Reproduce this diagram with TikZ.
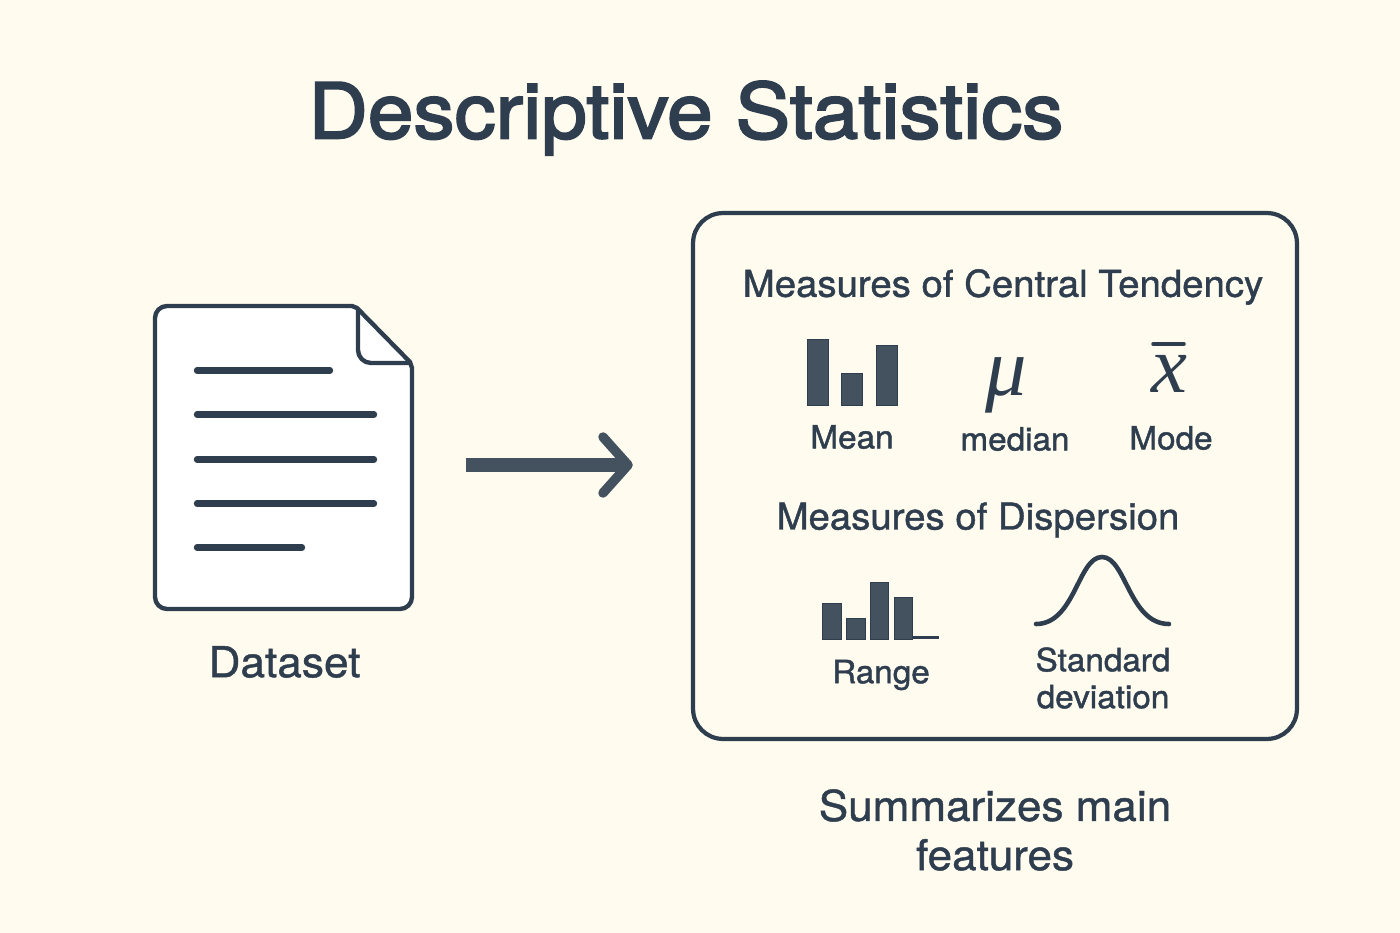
\documentclass[tikz,border=0pt]{standalone}
\usepackage{fontspec}
\setmainfont[FakeStretch=1.04]{TeX Gyre Heros}
\newfontfamily\titlefont[FakeStretch=1.07]{TeX Gyre Heros}
\newfontfamily\symbolfont{Liberation Serif}
\newcommand\inkweight[1]{\special{pdf:code #1 w 2 Tr}}
\definecolor{paper}{HTML}{FFFBEF}
\definecolor{ink}{HTML}{2F3E4E}
\definecolor{barfill}{HTML}{44525F}
\tikzset{
    outline/.style={draw=ink, line width=2.5pt, line join=round, line cap=round},
    textline/.style={draw=ink, line width=3.6pt, line cap=round},
    bar/.style={fill=barfill, draw=ink, line width=0.4pt},
    label/.style={text=ink, font=\fontsize{18.2}{18.2}\selectfont, align=center, execute at begin node=\inkweight{0.25}},
    heading/.style={text=ink, font=\fontsize{21}{21}\selectfont, execute at begin node=\inkweight{0.25}},
    symbol/.style={text=ink, font=\symbolfont\itshape\fontsize{#1}{#1}\selectfont},
}
\begin{document}
\begin{tikzpicture}[x=0.02cm, y=-0.02cm]
    \useasboundingbox[fill=paper] (0,0) rectangle (1400,933);
    \node[text=ink, font=\titlefont\fontsize{43.7}{43.7}\selectfont, execute at begin node=\inkweight{1.1}] (title) at (686,118) {Descriptive Statistics};
    % document icon
    \filldraw[outline, fill=white] (167,306) -- (352,306) -- (357,308) -- (410,362) -- (412,368) -- (412,597)
        arc (0:90:12) -- (167,609) arc (90:180:12) -- (155,318) arc (180:270:12) -- cycle;
    \draw[outline] (358,310) -- (358,350) arc (180:90:13) -- (409,363);
    \draw[textline] (197,370.5) -- (330,370.5);
    \draw[textline] (197,414.5) -- (374,414.5);
    \draw[textline] (197,459.5) -- (374,459.5);
    \draw[textline] (197,503.5) -- (374,503.5);
    \draw[textline] (197,547.5) -- (302,547.5);
    \node[label, font=\fontsize{24.2}{24.2}\selectfont] (dataset) at (284.5,662) {Dataset};
    % arrow
    \coordinate (tail) at (466,465);
    \coordinate (tip) at (628,465);
    \draw[barfill, line width=7.9pt] (tail) -- (tip);
    \draw[barfill, line width=5.4pt, line cap=round, line join=round] (603,437) -- (tip) -- (603,493);
    % summary panel
    \node[draw=ink, line width=2.4pt, rounded corners=0.6cm, minimum width=12.08cm, minimum height=10.52cm] (panel) at (995,476) {};
    \node[heading] (central) at (1003,287) {Measures of Central Tendency};
    \fill[bar] (807,339) rectangle (828,405);
    \fill[bar] (841,373) rectangle (862,405);
    \fill[bar] (876,345) rectangle (897,405);
    \node[symbol=47] (mu) at (1006,385) {μ};
    \node[symbol=46] (xbar) at (1169,374) {x};
    \draw[ink, line width=2pt, line cap=round] (1153,344) -- (1184,344);
    \node[label] (mean) at (852,437) {Mean};
    \node[label] (median) at (1015,439) {median};
    \node[label] (mode) at (1171,438) {Mode};
    \node[heading] (dispersion) at (978,520) {Measures of Dispersion};
    \fill[bar] (822,603) rectangle (841,639);
    \fill[bar] (846,618) rectangle (865,639);
    \fill[bar] (870,582) rectangle (888,639);
    \fill[bar] (894,597) rectangle (912,639);
    \draw[ink, line width=1.6pt] (912,637.5) -- (939,637.5);
    \draw[ink, line width=2.6pt, line cap=round] (1036,624) .. controls (1075,624) and (1078,557) .. (1102,557)
        .. controls (1126,557) and (1129,624) .. (1169,624);
    \node[label] (range) at (881,675) {Range};
    \node[label, font=\fontsize{18.2}{21}\selectfont] (stddev) at (1103,678) {Standard\\deviation};
    \node[label, font=\fontsize{24.1}{28}\selectfont] (summary) at (995,830) {Summarizes main\\features};
\end{tikzpicture}
\end{document}
